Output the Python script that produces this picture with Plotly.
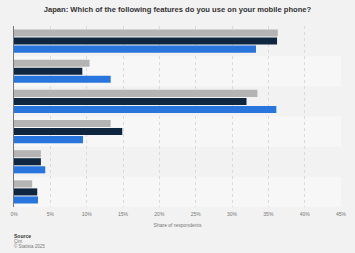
import plotly.graph_objects as go

categories = ["Feature 1", "Feature 2", "Feature 3", "Feature 4", "Feature 5", "Feature 6"]
series_names = ["Series A", "Series B", "Series C"]
values_a = [36.3, 10.4, 33.5, 13.3, 3.7, 2.5]
values_b = [36.2, 9.4, 32.0, 14.9, 3.7, 3.2]
values_c = [33.3, 13.3, 36.1, 9.5, 4.3, 3.3]
colors = ["#b4b4b4", "#0f2640", "#2876dd"]
tick_vals = [0, 5, 10, 15, 20, 25, 30, 35, 40, 45]
tick_text = [f"{v}%" for v in tick_vals]

fig = go.Figure()
for name, vals, col in zip(series_names, [values_a, values_b, values_c], colors):
    fig.add_trace(go.Bar(y=categories, x=vals, name=name, orientation="h",
                         marker=dict(color=col, line=dict(width=0))))

for i, c in enumerate(categories):
    if i % 2 == 1:
        fig.add_shape(type="rect", xref="paper", yref="y", x0=0, x1=1,
                      y0=i - 0.5, y1=i + 0.5, fillcolor="#f7f7f7",
                      line=dict(width=0), layer="below")

fig.update_layout(
    width=355, height=253,
    margin=dict(l=14, r=14, t=26, b=46, autoexpand=False),
    paper_bgcolor="#f2f2f2", plot_bgcolor="#f2f2f2",
    barmode="group", bargap=0.2, bargroupgap=0.12,
    showlegend=False,
    title=dict(text="<b>Japan: Which of the following features do you use on your mobile phone?</b>",
               x=0.5, xanchor="center", y=0.962, yanchor="middle",
               font=dict(family="Arial, Liberation Sans", size=7.6, color="#333333")),
    font=dict(family="Arial, Liberation Sans", color="#666666"),
    xaxis=dict(range=[0, 45], tickvals=tick_vals, ticktext=tick_text,
               showgrid=True, gridcolor="#dadada", griddash="dot", gridwidth=1,
               zeroline=False, tickfont=dict(size=5, color="#777777"),
               title=dict(text="Share of respondents", font=dict(size=5, color="#777777"), standoff=7),
               ticks="", ticklen=0, ticklabelstandoff=3, automargin=False),
    yaxis=dict(autorange="reversed", showticklabels=False, showgrid=False,
               showline=True, linecolor="#777777", linewidth=1, ticks="", automargin=False),
)

fig.add_annotation(text="<b>Source</b>", xref="paper", yref="paper", x=-0.006, y=-0.16,
                   xanchor="left", yanchor="middle", showarrow=False,
                   font=dict(size=5, color="#333333"))
fig.add_annotation(text="Cint", xref="paper", yref="paper", x=-0.006, y=-0.19,
                   xanchor="left", yanchor="middle", showarrow=False,
                   font=dict(size=4.5, color="#777777"))
fig.add_annotation(text="© Statista 2025", xref="paper", yref="paper", x=-0.006, y=-0.218,
                   xanchor="left", yanchor="middle", showarrow=False,
                   font=dict(size=4.5, color="#777777"))

fig.write_html("out.html")
